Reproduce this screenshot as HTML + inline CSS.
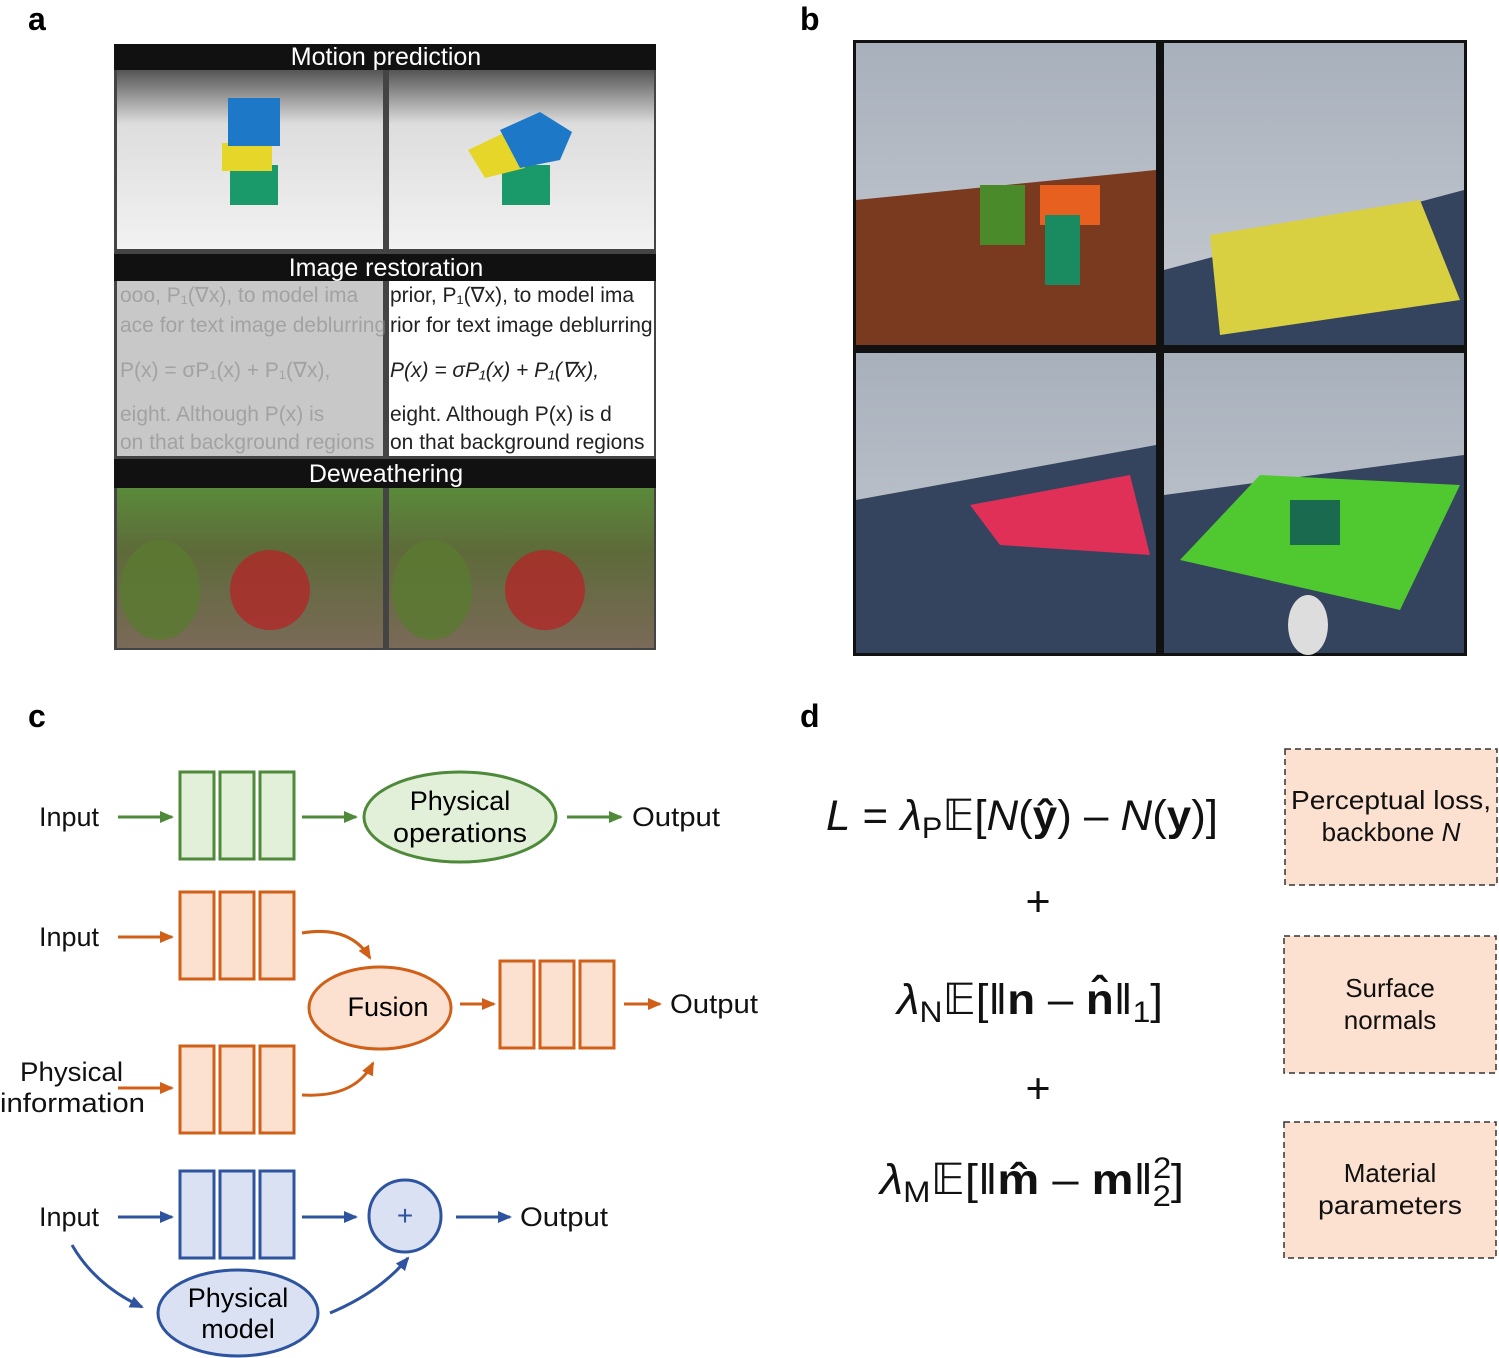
<!DOCTYPE html>
<html><head><meta charset="utf-8"><style>
html,body{margin:0;padding:0;background:#fff}
svg{display:block}
text{font-family:"Liberation Sans",sans-serif}
</style></head><body>
<svg width="1499" height="1358" viewBox="0 0 1499 1358" xmlns="http://www.w3.org/2000/svg">
<defs>
<marker id="ao" markerWidth="14" markerHeight="12" refX="12" refY="6" orient="auto" markerUnits="userSpaceOnUse"><path d="M0,0 L14,6 L0,12 Z" fill="#d06018"/></marker>
<marker id="ab" markerWidth="14" markerHeight="12" refX="12" refY="6" orient="auto" markerUnits="userSpaceOnUse"><path d="M0,0 L14,6 L0,12 Z" fill="#2e54a0"/></marker>
<marker id="ag2" markerWidth="14" markerHeight="12" refX="12" refY="6" orient="auto" markerUnits="userSpaceOnUse"><path d="M0,0 L14,6 L0,12 Z" fill="#4e8a3a"/></marker>
<linearGradient id="floor" x1="0" y1="0" x2="0" y2="1"><stop offset="0" stop-color="#555"/><stop offset="0.3" stop-color="#ddd"/><stop offset="1" stop-color="#f2f2f2"/></linearGradient>
<linearGradient id="wall" x1="0" y1="0" x2="0" y2="1"><stop offset="0" stop-color="#a8b0bc"/><stop offset="1" stop-color="#c8ccd2"/></linearGradient>
<linearGradient id="green" x1="0" y1="0" x2="0" y2="1"><stop offset="0" stop-color="#5a8a3a"/><stop offset="0.4" stop-color="#5e6a3a"/><stop offset="1" stop-color="#7a6a58"/></linearGradient>
</defs>

<text x="28" y="30" font-size="32" font-weight="bold">a</text>
<text x="800" y="30" font-size="32" font-weight="bold">b</text>
<text x="28" y="727" font-size="32" font-weight="bold">c</text>
<text x="800" y="727" font-size="32" font-weight="bold">d</text>

<!-- Panel a -->
<rect x="114" y="44" width="542" height="606" fill="#444"/>
<rect x="114" y="44" width="542" height="26" fill="#111"/>
<text x="386" y="65" font-size="25" fill="#fff" text-anchor="middle">Motion prediction</text>
<rect x="117" y="70" width="266" height="179" fill="url(#floor)"/>
<rect x="389" y="70" width="265" height="179" fill="url(#floor)"/>
<rect x="230" y="165" width="48" height="40" fill="#1a9a6a"/>
<rect x="222" y="143" width="50" height="28" fill="#e6d62a"/>
<rect x="228" y="98" width="52" height="48" fill="#1e78c8"/>
<rect x="502" y="165" width="48" height="40" fill="#1a9a6a"/>
<polygon points="468,150 510,130 525,168 485,178" fill="#e6d62a"/>
<polygon points="500,130 540,112 572,132 560,160 520,168" fill="#1e78c8"/>
<rect x="114" y="254" width="542" height="27" fill="#111"/>
<text x="386" y="276" font-size="25" fill="#fff" text-anchor="middle">Image restoration</text>
<rect x="117" y="281" width="266" height="175" fill="#c8c8c8"/>
<rect x="389" y="281" width="265" height="175" fill="#fff"/>
<g font-family="Liberation Serif" font-size="21" fill="#222">
<text x="390" y="302">prior, P₁(∇x), to model ima</text>
<text x="390" y="332">rior for text image deblurring</text>
<text x="390" y="377" font-style="italic">P(x) = σP₁(x) + P₁(∇x),</text>
<text x="390" y="421">eight.  Although  P(x)  is d</text>
<text x="390" y="449">on that background regions</text>
</g>
<g font-family="Liberation Serif" font-size="21" fill="#8a8a8a" opacity="0.6">
<text x="120" y="302">ooo, P₁(∇x), to model ima</text>
<text x="120" y="332">ace for text image deblurring</text>
<text x="120" y="377">P(x) = σP₁(x) + P₁(∇x),</text>
<text x="120" y="421">eight.  Although P(x) is</text>
<text x="120" y="449">on that background regions</text>
</g>
<rect x="114" y="459" width="542" height="29" fill="#111"/>
<text x="386" y="482" font-size="25" fill="#fff" text-anchor="middle">Deweathering</text>
<rect x="117" y="488" width="266" height="160" fill="url(#green)"/>
<rect x="389" y="488" width="265" height="160" fill="url(#green)"/>
<ellipse cx="270" cy="590" rx="40" ry="40" fill="#b02828" opacity="0.8"/>
<ellipse cx="545" cy="590" rx="40" ry="40" fill="#b02828" opacity="0.8"/>
<ellipse cx="160" cy="590" rx="40" ry="50" fill="#5a7a30" opacity="0.8"/>
<ellipse cx="432" cy="590" rx="40" ry="50" fill="#5a7a30" opacity="0.8"/>

<!-- Panel b -->
<rect x="853" y="40" width="614" height="616" fill="#111"/>
<rect x="856" y="43" width="300" height="302" fill="url(#wall)"/>
<polygon points="856,200 1156,170 1156,345 856,345" fill="#7a3a20"/>
<rect x="1040" y="185" width="60" height="40" fill="#e86020"/>
<rect x="980" y="185" width="45" height="60" fill="#4a8a2a"/>
<rect x="1045" y="215" width="35" height="70" fill="#1a8a60"/>
<rect x="1164" y="43" width="300" height="302" fill="url(#wall)"/>
<polygon points="1164,270 1464,190 1464,345 1164,345" fill="#34445e"/>
<polygon points="1210,235 1420,200 1460,300 1220,335" fill="#d8d040"/>
<rect x="856" y="353" width="300" height="300" fill="url(#wall)"/>
<polygon points="856,500 1156,445 1156,653 856,653" fill="#34445e"/>
<polygon points="970,505 1130,475 1150,555 1000,545" fill="#e03058"/>
<rect x="1164" y="353" width="300" height="300" fill="url(#wall)"/>
<polygon points="1164,495 1464,455 1464,653 1164,653" fill="#34445e"/>
<polygon points="1180,560 1260,475 1460,485 1400,610" fill="#50c830"/>
<rect x="1290" y="500" width="50" height="45" fill="#1a6a50"/>
<ellipse cx="1308" cy="625" rx="20" ry="30" fill="#ddd"/>

<!-- Panel c -->
<g font-size="27" fill="#111">
<text x="39" y="826">Input</text>
<text x="632" y="826" textLength="88" lengthAdjust="spacingAndGlyphs">Output</text>
<text x="39" y="946">Input</text>
<text x="670" y="1013" textLength="88" lengthAdjust="spacingAndGlyphs">Output</text>
<text x="20" y="1081" textLength="103" lengthAdjust="spacingAndGlyphs">Physical</text>
<text x="0" y="1112" textLength="145" lengthAdjust="spacingAndGlyphs">information</text>
<text x="39" y="1226">Input</text>
<text x="520" y="1226" textLength="88" lengthAdjust="spacingAndGlyphs">Output</text>
</g>
<g fill="#e2efd9" stroke="#4e8a3a" stroke-width="3">
<rect x="180" y="772" width="34" height="87"/><rect x="220" y="772" width="34" height="87"/><rect x="260" y="772" width="34" height="87"/>
<ellipse cx="460" cy="817" rx="96" ry="45"/>
</g>
<text x="460" y="810" font-size="27" text-anchor="middle">Physical</text>
<text x="460" y="842" font-size="27" text-anchor="middle" textLength="134" lengthAdjust="spacingAndGlyphs">operations</text>
<g stroke="#4e8a3a" stroke-width="3" fill="none" marker-end="url(#ag2)">
<line x1="118" y1="817" x2="172" y2="817"/><line x1="302" y1="817" x2="356" y2="817"/><line x1="567" y1="817" x2="621" y2="817"/>
</g>
<g fill="#fce0d0" stroke="#d06018" stroke-width="3">
<rect x="180" y="892" width="34" height="87"/><rect x="220" y="892" width="34" height="87"/><rect x="260" y="892" width="34" height="87"/>
<rect x="180" y="1046" width="34" height="87"/><rect x="220" y="1046" width="34" height="87"/><rect x="260" y="1046" width="34" height="87"/>
<rect x="500" y="961" width="34" height="87"/><rect x="540" y="961" width="34" height="87"/><rect x="580" y="961" width="34" height="87"/>
<ellipse cx="380" cy="1008" rx="71" ry="41"/>
</g>
<text x="388" y="1016" font-size="27" text-anchor="middle">Fusion</text>
<g stroke="#d06018" stroke-width="3" fill="none" marker-end="url(#ao)">
<line x1="118" y1="937" x2="172" y2="937"/><line x1="118" y1="1088" x2="172" y2="1088"/>
<path d="M302,933 Q350,925 370,958"/><path d="M302,1095 Q355,1098 373,1063"/>
<line x1="460" y1="1004" x2="494" y2="1004"/><line x1="624" y1="1004" x2="660" y2="1004"/>
</g>
<g fill="#d9e1f2" stroke="#2e54a0" stroke-width="3">
<rect x="180" y="1171" width="34" height="87"/><rect x="220" y="1171" width="34" height="87"/><rect x="260" y="1171" width="34" height="87"/>
<circle cx="405" cy="1216" r="36"/>
<ellipse cx="238" cy="1313" rx="80" ry="43"/>
</g>
<text x="405" y="1225" font-size="28" text-anchor="middle" fill="#2e54a0">+</text>
<text x="238" y="1307" font-size="27" text-anchor="middle">Physical</text>
<text x="238" y="1338" font-size="27" text-anchor="middle">model</text>
<g stroke="#2e54a0" stroke-width="3" fill="none" marker-end="url(#ab)">
<line x1="118" y1="1217" x2="172" y2="1217"/><line x1="302" y1="1217" x2="356" y2="1217"/><line x1="456" y1="1217" x2="510" y2="1217"/>
<path d="M72,1245 Q95,1285 142,1307"/><path d="M330,1313 Q380,1292 408,1258"/>
</g>

<!-- Panel d -->
<g font-size="43" fill="#111" text-anchor="middle">
<text x="1022" y="830" textLength="392" lengthAdjust="spacingAndGlyphs"><tspan font-style="italic">L</tspan> = <tspan font-style="italic">λ</tspan><tspan font-size="30" dy="8">P</tspan><tspan dy="-8" font-family="Liberation Serif">𝔼</tspan>[<tspan font-style="italic">N</tspan>(<tspan font-weight="bold">ŷ</tspan>) – <tspan font-style="italic">N</tspan>(<tspan font-weight="bold">y</tspan>)]</text>
<text x="1038" y="916">+</text>
<text x="1030" y="1014" textLength="266" lengthAdjust="spacingAndGlyphs"><tspan font-style="italic">λ</tspan><tspan font-size="30" dy="8">N</tspan><tspan dy="-8" font-family="Liberation Serif">𝔼</tspan>[‖<tspan font-weight="bold">n</tspan> – <tspan font-weight="bold">n̂</tspan>‖<tspan font-size="30" dy="8">1</tspan><tspan dy="-8">]</tspan></text>
<text x="1038" y="1103">+</text>
<text x="1032" y="1194" textLength="304" lengthAdjust="spacingAndGlyphs"><tspan font-style="italic">λ</tspan><tspan font-size="30" dy="8">M</tspan><tspan dy="-8" font-family="Liberation Serif">𝔼</tspan>[‖<tspan font-weight="bold">m̂</tspan> – <tspan font-weight="bold">m</tspan>‖<tspan font-size="30" dy="-16">2</tspan><tspan font-size="30" dx="-17" dy="28">2</tspan><tspan dy="-12">]</tspan></text>
</g>
<g fill="#fce0d0" stroke="#333" stroke-width="1.5" stroke-dasharray="6,4">
<rect x="1285" y="749" width="212" height="136"/>
<rect x="1284" y="936" width="212" height="137"/>
<rect x="1284" y="1122" width="212" height="136"/>
</g>
<g font-size="26" fill="#111" text-anchor="middle">
<text x="1391" y="809" textLength="200" lengthAdjust="spacingAndGlyphs">Perceptual loss,</text>
<text x="1391" y="841">backbone <tspan font-style="italic">N</tspan></text>
<text x="1390" y="997">Surface</text>
<text x="1390" y="1029">normals</text>
<text x="1390" y="1182">Material</text>
<text x="1390" y="1214" textLength="144" lengthAdjust="spacingAndGlyphs">parameters</text>
</g>
</svg>
</body></html>
